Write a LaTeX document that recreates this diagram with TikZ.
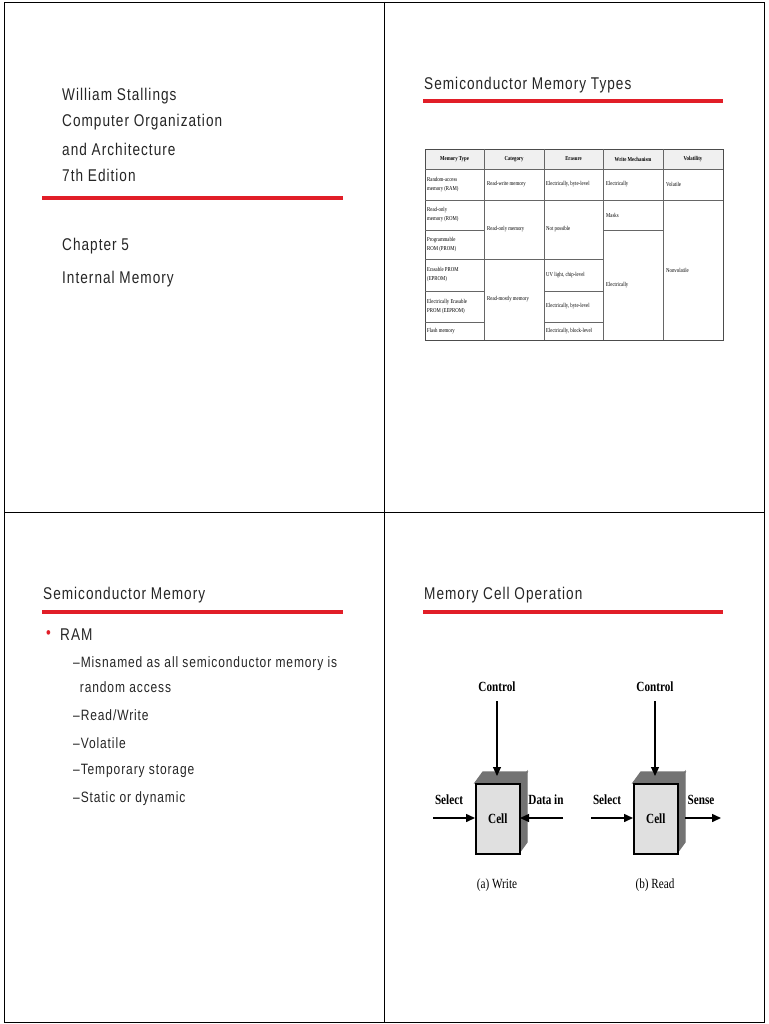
\documentclass[tikz,border=0pt]{standalone}
\usepackage{fontspec}
\setmainfont{Liberation Sans}[FakeStretch=0.8,LetterSpace=6]
\newfontfamily\tabfont{Liberation Serif}[FakeStretch=0.8]
\usetikzlibrary{arrows.meta}
\definecolor{slred}{RGB}{225,30,40}
\begin{document}
\begin{tikzpicture}[x=1pt,y=-1pt,
  ttl/.style={anchor=west,inner sep=0,font=\fontsize{17}{17}\selectfont,text=black!85},
  sub/.style={anchor=west,inner sep=0,font=\fontsize{15}{15}\selectfont,text=black!85},
  redline/.style={slred,line width=4.5pt},
  tc/.style={font=\tabfont\fontsize{6}{9}\selectfont,anchor=west,inner sep=0,align=left},
  th/.style={font=\tabfont\bfseries\fontsize{6}{7}\selectfont,inner sep=0},
  dl/.style={font=\tabfont\bfseries\fontsize{14}{14}\selectfont,inner sep=0},
  arr/.style={line width=1.5pt,-{Triangle[length=9pt,width=8pt]}},
  cellf/.style={draw,line width=1.6pt,fill=black!12}]
\useasboundingbox (0,0) rectangle (768,1024);
\fill[white] (0,0) rectangle (768,1024);
\draw[line width=0.8pt] (4,2) rectangle (764,1022);
\draw[line width=0.8pt] (384,2) -- (384,1022);
\draw[line width=0.8pt] (4,512) -- (764,512);
% slide 1
\node[ttl] (t1) at (62,96) {William Stallings};
\node[ttl] (t2) at (62,122) {Computer Organization};
\node[ttl] (t3) at (62,149) {and Architecture};
\node[ttl] (t4) at (62,175) {7th Edition};
\draw[redline] (42,198) -- (343,198);
\node[ttl] (c1) at (62,246) {Chapter 5};
\node[ttl] (c2) at (62,279) {Internal Memory};
% slide 2
\node[ttl] (s2) at (424,85) {Semiconductor Memory Types};
\draw[redline] (423,101) -- (723,101);
\fill[black!6] (425,149) rectangle (723,169);
\draw[line width=0.6pt,black!70] (425,149) rectangle (723,340);
\draw[line width=0.4pt,black!60]
  (425,169) -- (723,169)
  (425,200) -- (723,200)
  (425,230) -- (484,230) (603,230) -- (663,230)
  (425,259) -- (603,259)
  (425,291) -- (484,291) (544,291) -- (603,291)
  (425,322) -- (484,322) (544,322) -- (603,322)
  (484,149) -- (484,340) (544,149) -- (544,340)
  (603,149) -- (603,340) (663,149) -- (663,340);
\node[th] (h1) at (454.5,159) {Memory Type};
\node[th] (h2) at (514,159) {Category};
\node[th] (h3) at (573.5,159) {Erasure};
\node[th] (h4) at (633,159) {Write Mechanism};
\node[th] (h5) at (693,159) {Volatility};
\node[tc] (m1) at (427,184.5) {Random-access\\memory (RAM)};
\node[tc] (m2) at (427,215) {Read-only\\memory (ROM)};
\node[tc] (m3) at (427,244.5) {Programmable\\ROM (PROM)};
\node[tc] (m4) at (427,275) {Erasable PROM\\(EPROM)};
\node[tc] (m5) at (427,306.5) {Electrically Erasable\\PROM (EEPROM)};
\node[tc] (m6) at (427,331) {Flash memory};
\node[tc] (k1) at (487,184.5) {Read-write memory};
\node[tc] (k2) at (487,229.5) {Read-only memory};
\node[tc] (k3) at (487,299.5) {Read-mostly memory};
\node[tc] (e1) at (546,184.5) {Electrically, byte-level};
\node[tc] (e2) at (546,229.5) {Not possible};
\node[tc] (e3) at (546,275) {UV light, chip-level};
\node[tc] (e4) at (546,306.5) {Electrically, byte-level};
\node[tc] (e5) at (546,331) {Electrically, block-level};
\node[tc] (w1) at (606,184.5) {Electrically};
\node[tc] (w2) at (606,215) {Masks};
\node[tc] (w3) at (606,285) {Electrically};
\node[tc] (v1) at (666,184.5) {Volatile};
\node[tc] (v2) at (666,270) {Nonvolatile};
% slide 3
\node[ttl] (s3) at (43,595) {Semiconductor Memory};
\draw[redline] (42,612) -- (343,612);
\node[ttl,text=slred] (b1) at (46,635) {•};
\node[ttl] (ram) at (60,635) {RAM};
\node[sub] (i1) at (73,664) {–Misnamed as all semiconductor memory is};
\node[sub] (i1b) at (73,687) {\phantom{–}random access};
\node[sub] (i2) at (73,715) {–Read/Write};
\node[sub] (i3) at (73,743) {–Volatile};
\node[sub] (i4) at (73,771) {–Temporary storage};
\node[sub] (i5) at (73,799) {–Static or dynamic};
% slide 4
\node[ttl] (s4) at (424,595) {Memory Cell Operation};
\draw[redline] (423,612) -- (723,612);
\foreach \x/\n in {475/A,633/B}{
  \fill[black!55,draw,line width=1.4pt] (\x,783) -- (\x+8,772) -- (\x+52,772) -- (\x+44,783) -- cycle;
  \fill[black!55,draw,line width=1.4pt] (\x+44,783) -- (\x+52,772) -- (\x+52,842) -- (\x+44,853) -- cycle;
  \node[cellf,minimum width=44pt,minimum height=70pt,anchor=north west] (cell\n) at (\x,783) {};
}
\node[dl] at (cellA.center) {Cell};
\node[dl] at (cellB.center) {Cell};
\node[dl] (ctA) at (497,687) {Control};
\node[dl] (ctB) at (655,687) {Control};
\coordinate (cta) at (497,701); \coordinate (ctaE) at (497,776);
\coordinate (ctb) at (655,701); \coordinate (ctbE) at (655,776);
\draw[arr,line width=1.2pt] (cta) -- (ctaE);
\draw[arr,line width=1.2pt] (ctb) -- (ctbE);
\node[dl] (selA) at (449,800) {Select};
\node[dl] (din) at (546,800) {Data in};
\node[dl] (selB) at (607,800) {Select};
\node[dl] (sen) at (701,800) {Sense};
\coordinate (sa) at (433,818); \coordinate (da) at (563,818);
\coordinate (sb) at (591,818); \coordinate (se) at (721,818);
\draw[arr] (sa) -- (sa -| cellA.west);
\draw[arr] (da) -- (da -| 520,0);
\draw[arr] (sb) -- (sb -| cellB.west);
\draw[arr] (se -| 685,0) -- (se);
\node[dl,font=\tabfont\fontsize{14}{14}\selectfont] (ca) at (497,885) {(a) Write};
\node[dl,font=\tabfont\fontsize{14}{14}\selectfont] (cb) at (655,885) {(b) Read};
\end{tikzpicture}
\end{document}
